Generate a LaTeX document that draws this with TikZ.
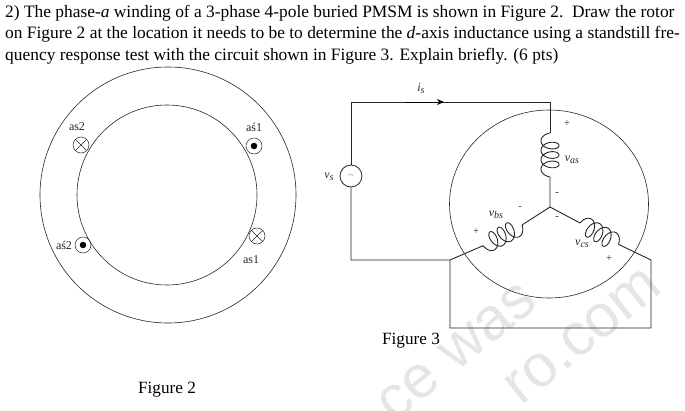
\documentclass[tikz,border=0pt]{standalone}
\usepackage{fontspec}
\setmainfont{Liberation Serif}
\newfontfamily\wmfont{Liberation Sans}
\usetikzlibrary{arrows.meta}
\definecolor{inkgray}{gray}{0.15}
\definecolor{markgray}{gray}{0.9}
\tikzset{
  slotcirc/.style={circle,draw=inkgray,line width=.5pt,minimum size=16pt,inner sep=0pt},
  slotdot/.style={circle,fill=black,minimum size=6.5pt,inner sep=0pt},
  slotlabel/.style={font=\fontsize{12}{14}\selectfont,text=black!85,inner sep=0pt},
  figlabel/.style={font=\fontsize{17.2}{19}\selectfont,inner sep=0pt},
  sign/.style={font=\fontsize{10.5}{11}\selectfont,text=inkgray,inner sep=0pt},
  varlabel/.style={font=\fontsize{12}{13}\selectfont,text=inkgray,inner sep=0pt},
  wire/.style={line width=.9pt,color=inkgray},
  rim/.style={line width=.6pt,color=inkgray},
  watermark/.style={font=\wmfont\fontsize{60}{64}\selectfont,text=markgray,rotate=39,inner sep=0pt}
}
% #1 letter, #2 subscript
\newcommand{\varsub}[2]{\textit{#1}\raisebox{-2pt}{\fontsize{10}{11}\selectfont\textit{#2}}}
% #1 name, #2 start, #3 angle, #4 side
\newcommand{\coil}[4]{%
\begin{scope}[shift={#2},rotate=#3]
\coordinate (#1in) at (0,0);
\coordinate (#1out) at (44,0);
\draw[wire,domain=-90:1170,samples=160,variable=\t,smooth]
plot ({22+(\t-540)/38.2+5.5*sin(\t)},{#4*cos(\t)});
\end{scope}}
\begin{document}
\begin{tikzpicture}[x=1pt,y=-1pt]
\useasboundingbox (0,0) rectangle (685,410);
\begin{scope}
\clip (0,0) rectangle (685,410);
\node[watermark] (markone) at (457,352) {ce was};
\node[watermark] (marktwo) at (583,336) {ro.com};
\end{scope}
%
\node[anchor=north west,align=left,inner sep=0pt,font=\fontsize{17.4}{21.5}\selectfont] (question) at (5,5)
{2) The phase-\textit{a} winding of a 3-phase 4-pole buried PMSM is shown in Figure 2.\ \ Draw the rotor\\
on Figure 2 at the location it needs to be to determine the \textit{d}-axis inductance using a standstill fre-\\
quency response test with the circuit shown in Figure 3. Explain briefly. (6 pts)};
%
\draw[rim] (168,195) circle (128pt);
\draw[rim] (167,195) circle (90pt);
\node[slotcirc] (as2) at (81,145) {};
\draw[rim,line width=.4pt] (as2.north west) -- (as2.south east) (as2.north east) -- (as2.south west);
\node[slotcirc] (as1) at (257,236) {};
\draw[rim,line width=.4pt] (as1.north west) -- (as1.south east) (as1.north east) -- (as1.south west);
\node[slotcirc] (asp1) at (254,146) {};
\node[slotdot] (asp1dot) at (asp1) {};
\node[slotcirc] (asp2) at (83,245) {};
\node[slotdot] (asp2dot) at (asp2) {};
\node[slotlabel] (as2lab) at (77,127) {as2};
\node[slotlabel] (as1lab) at (251,260) {as1};
\node[slotlabel] (asp1lab) at (254,127) {a\'s1};
\node[slotlabel] (asp2lab) at (64,245) {a\'s2};
\node[figlabel] (figtwo) at (167,390) {Figure 2};
%
\draw[rim] (549,204) ellipse [x radius=99.5pt,y radius=94pt];
\coordinate (star) at (550,207);
\coordinate (topleft) at (351,102);
\coordinate (topright) at (550,102);
\coordinate (bcorner) at (450,260);
\coordinate (ccorner) at (651,260);
\coordinate (bleft) at (351,260);
\coordinate (bbottom) at (450,328);
\coordinate (cbottom) at (651,328);
\node[circle,draw=inkgray,line width=.8pt,minimum size=22pt,inner sep=0pt,text=gray,font=\fontsize{10}{10}\selectfont] (source) at (351,176) {\char`\~};
%
\coil{acoil}{(550,133)}{-90}{9}
\coil{bcoil}{(522,225)}{208}{-9}
\coil{ccoil}{(580,223)}{-29}{-9}
%
\draw[wire] (source) -- (topleft) -- (topright) -- (acoilin);
\draw[wire] (acoilout) -- (star) -- (bcoilin);
\draw[wire] (star) -- (ccoilin);
\draw[wire] (source) -- (bleft) -- (bcorner) -- (bcoilout);
\draw[wire] (ccoilout) -- (ccorner) -- (cbottom) -- (bbottom) -- (bcorner);
\draw[-{Stealth[length=7pt,width=6pt]},line width=1pt,color=black] (405,102) -- (444,102);
%
\node[varlabel] (islab) at (421,89) {\varsub{i}{s}};
\node[varlabel] (vslab) at (329,177) {\varsub{v}{s}};
\node[varlabel] (vaslab) at (572,160) {\varsub{v}{as}};
\node[varlabel] (vbslab) at (496,215) {\varsub{v}{bs}};
\node[varlabel] (vcslab) at (582,244) {\varsub{v}{cs}};
\node[sign] (aplus) at (567,124) {+};
\node[sign] (aminus) at (557,194) {-};
\node[sign] (bminus) at (520,208) {-};
\node[sign] (bplus) at (476,232) {+};
\node[sign] (cminus) at (557,218) {-};
\node[sign] (cplus) at (609,259) {+};
\node[figlabel] (figthree) at (411,341) {Figure 3};
\end{tikzpicture}
\end{document}
